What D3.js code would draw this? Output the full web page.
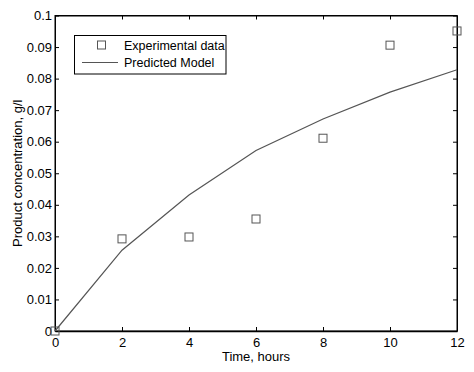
<!DOCTYPE html>
<html>
<head>
<meta charset="utf-8">
<script src="https://cdn.jsdelivr.net/npm/d3@7"></script>
<style>
  body { margin: 0; background: #fff; }
  svg text { font-family: "Liberation Sans", Arial, sans-serif; fill: #000; }
</style>
</head>
<body>
<div id="chart"></div>
<script>
const width = 474;
const height = 372;
const margin = { top: 15.5, right: 17, bottom: 41, left: 55 };

// data
const hours = [0, 2, 4, 6, 8, 10, 12];
const experimental = [0, 0.0292, 0.0298, 0.0355, 0.0611, 0.0906, 0.0951];
const predicted = [0, 0.0256, 0.0431, 0.0572, 0.0672, 0.0757, 0.0828];
const xTicks = [0, 2, 4, 6, 8, 10, 12];
const yTicks = [0, 0.01, 0.02, 0.03, 0.04, 0.05, 0.06, 0.07, 0.08, 0.09, 0.1];

const svg = d3.select("#chart").append("svg")
    .attr("width", width)
    .attr("height", height);

const x = d3.scaleLinear().domain([0, 12]).range([margin.left, width - margin.right]);
const y = d3.scaleLinear().domain([0, 0.1]).range([height - margin.bottom, margin.top]);

const yFmt = (d) => (d === 0 ? "0" : d3.format(".2~f")(d));

// box
svg.append("rect")
    .attr("x", x(0)).attr("y", y(0.1))
    .attr("width", x(12) - x(0)).attr("height", y(0) - y(0.1))
    .attr("fill", "none").attr("stroke", "#000").attr("stroke-width", 1);

// axes (ticks inward, MATLAB style)
const xAxisG = svg.append("g")
    .attr("transform", `translate(0,${y(0)})`)
    .call(d3.axisBottom(x).tickValues(xTicks).tickSizeInner(-4).tickSizeOuter(0).tickPadding(7))
    .call((g) => g.select(".domain").attr("stroke-width", 1.4));

const yAxisG = svg.append("g")
    .attr("transform", `translate(${x(0)},0)`)
    .call(d3.axisLeft(y).tickValues(yTicks).tickFormat(yFmt).tickSizeInner(-4).tickSizeOuter(0).tickPadding(3));

// mirrored ticks top/right
svg.append("g")
    .attr("transform", `translate(0,${y(0.1)})`)
    .call(d3.axisTop(x).tickValues(xTicks).tickSizeInner(-4).tickSizeOuter(0).tickFormat(""));
svg.append("g")
    .attr("transform", `translate(${x(12)},0)`)
    .call(d3.axisRight(y).tickValues(yTicks).tickSizeInner(-4).tickSizeOuter(0).tickFormat(""));

svg.selectAll(".tick text").attr("font-size", 13);

// axis labels
svg.append("text")
    .attr("x", (x(0) + x(12)) / 2)
    .attr("y", 361)
    .attr("text-anchor", "middle")
    .attr("font-size", 13)
    .text("Time, hours");

svg.append("text")
    .attr("transform", "rotate(-90)")
    .attr("x", -(y(0) + y(0.1)) / 2)
    .attr("y", 22)
    .attr("text-anchor", "middle")
    .attr("font-size", 13)
    .text("Product concentration, g/l");

// predicted line
const line = d3.line()
    .x((d, i) => x(hours[i]))
    .y((d) => y(d));

svg.append("path")
    .datum(predicted)
    .attr("d", line)
    .attr("fill", "none")
    .attr("stroke", "#555")
    .attr("stroke-width", 1.2);

// experimental squares
const sq = 8;
svg.append("g")
    .selectAll("rect")
    .data(experimental)
    .join("rect")
    .attr("x", (d, i) => x(hours[i]) - sq / 2)
    .attr("y", (d) => y(d) - sq / 2)
    .attr("width", sq)
    .attr("height", sq)
    .attr("fill", "none")
    .attr("stroke", "#555")
    .attr("stroke-width", 1);

// legend
const legend = svg.append("g");
legend.append("rect")
    .attr("x", 74.5).attr("y", 35.5)
    .attr("width", 151.5).attr("height", 38.5)
    .attr("fill", "#fff").attr("stroke", "#000").attr("stroke-width", 1);

legend.append("rect")
    .attr("x", 101.5 - sq / 2).attr("y", 45 - sq / 2)
    .attr("width", sq).attr("height", sq)
    .attr("fill", "none").attr("stroke", "#555");

legend.append("line")
    .attr("x1", 82).attr("x2", 118)
    .attr("y1", 62.5).attr("y2", 62.5)
    .attr("stroke", "#555").attr("stroke-width", 1.2);

legend.append("text")
    .attr("x", 124).attr("y", 49.5)
    .attr("font-size", 12.5)
    .text("Experimental data");

legend.append("text")
    .attr("x", 124).attr("y", 67)
    .attr("font-size", 12.5)
    .text("Predicted Model");
</script>
</body>
</html>
